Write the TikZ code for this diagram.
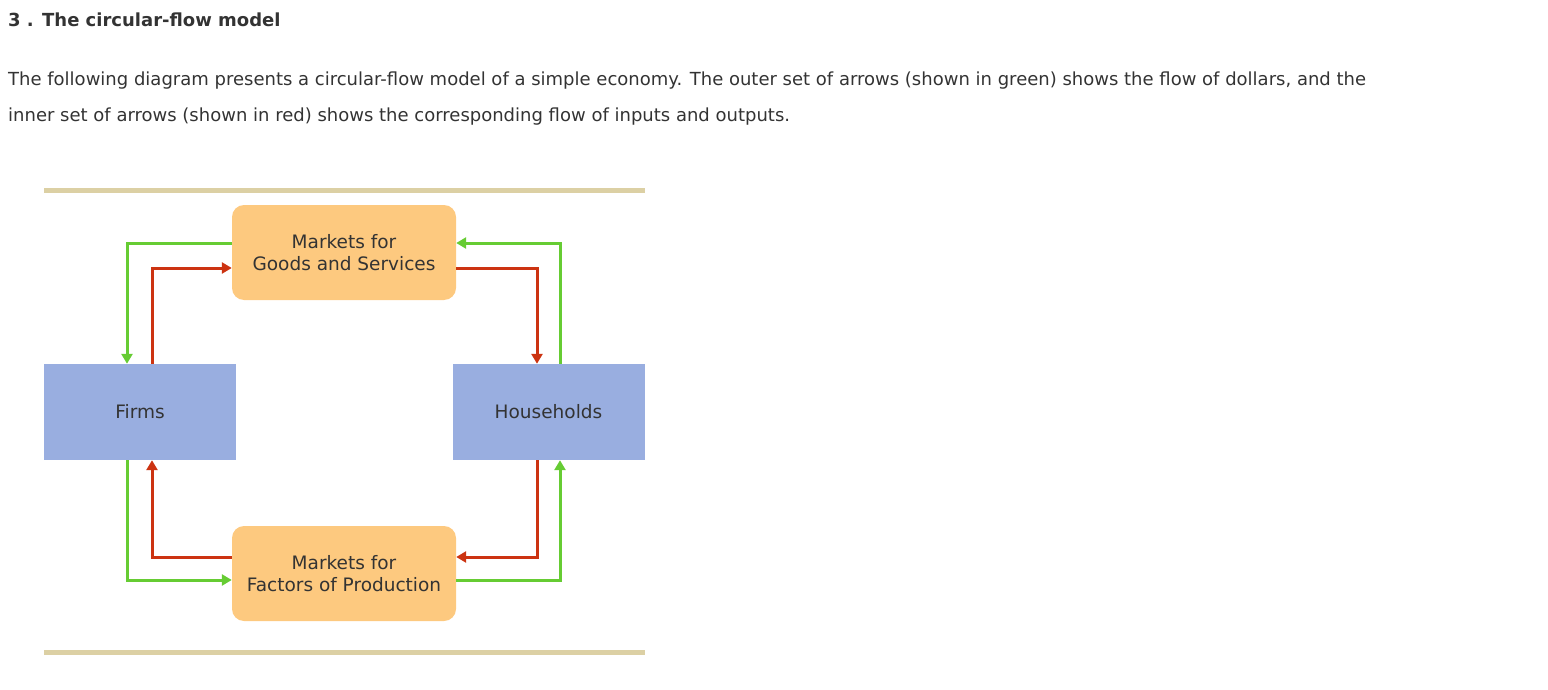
\documentclass[tikz,border=0pt]{standalone}
\usepackage{fontspec}
\setmainfont{DejaVu Sans}
\usetikzlibrary{arrows.meta}
\definecolor{gr}{HTML}{66CC33}
\definecolor{rd}{HTML}{CC3311}
\definecolor{tan}{HTML}{DCD0A4}
\definecolor{org}{HTML}{FDC97F}
\definecolor{blu}{HTML}{99AEE0}
\definecolor{txt}{HTML}{333333}
\begin{document}
\begin{tikzpicture}[x=1pt,y=-1pt,
  mkt/.style={draw=none,fill=org,rounded corners=12pt,minimum width=224pt,minimum height=95pt,align=center,font=\fontsize{18.5}{22}\selectfont,text=txt,inner sep=0pt},
  agent/.style={draw=none,fill=blu,minimum width=192pt,minimum height=96pt,font=\fontsize{18.5}{22}\selectfont,text=txt,inner sep=0pt},
  para/.style={anchor=west,inner sep=0pt,text=txt,font=\fontsize{18}{22}\selectfont},
  gflow/.style={draw=gr,line width=3pt,-{Triangle[length=10pt,width=11pt]}},
  rflow/.style={draw=rd,line width=3pt,-{Triangle[length=10pt,width=11pt]}}]
\useasboundingbox (0,0) rectangle (1548,690);
\node[para,font=\bfseries\fontsize{18}{22}\selectfont] (title) at (8,20) {3 . The circular-flow model};
\node[para] (l1) at (8,81) {The following diagram presents a circular-flow model of a simple economy. The outer set of arrows (shown in green) shows the flow of dollars, and the};
\node[para] (l2) at (8,117) {inner set of arrows (shown in red) shows the corresponding flow of inputs and outputs.};
\fill[tan] (44,188) rectangle (645,193);
\fill[tan] (44,650) rectangle (645,655);
\node[mkt] (goods) at (344,252.5) {Markets for\\Goods and Services};
\node[mkt] (factors) at (344,573.5) {Markets for\\Factors of Production};
\node[agent] (firms) at (140,412) {Firms};
\node[agent] (hh) at (548.5,412) {Households};
% top
\draw[gflow] (goods.west |- 0,243) -| (firms.north -| 127,0);
\draw[rflow] (firms.north -| 152,0) |- (goods.west |- 0,268);
\draw[rflow] (goods.east |- 0,268) -| (hh.north -| 537,0);
\draw[gflow] (hh.north -| 560,0) |- (goods.east |- 0,243);
% bottom
\draw[rflow] (hh.south -| 537,0) |- (factors.east |- 0,557);
\draw[gflow] (factors.east |- 0,580) -| (hh.south -| 560,0);
\draw[rflow] (factors.west |- 0,557) -| (firms.south -| 152,0);
\draw[gflow] (firms.south -| 127,0) |- (factors.west |- 0,580);
\end{tikzpicture}
\end{document}
